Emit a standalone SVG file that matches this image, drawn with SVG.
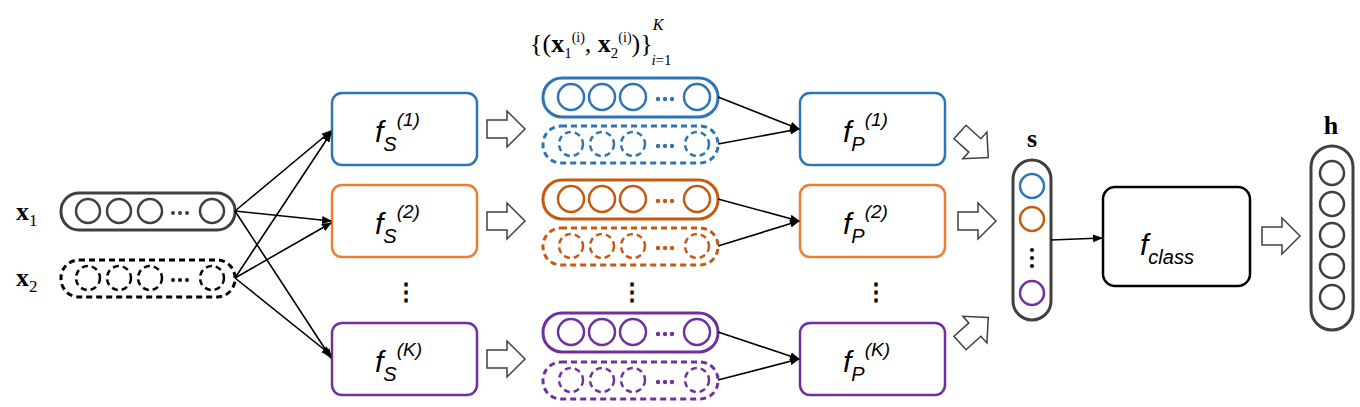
<svg xmlns="http://www.w3.org/2000/svg" width="1360" height="407" viewBox="0 0 1360 407">
<style>
.box{fill:#fff;stroke-width:2.5}
.bar{fill:#fff;stroke-width:3}
.c{fill:#fff;stroke-width:2.5}
.d{stroke-dasharray:6,4}
.blue{stroke:#2e75b6}.org{stroke:#ed7d31}.dorg{stroke:#c55a11}.pur{stroke:#7030a0}.blk{stroke:#000}.gry{stroke:#404040}
.f{font-family:"Liberation Sans",sans-serif;font-style:italic;font-size:30px}
.sub{font-family:"Liberation Sans",sans-serif;font-style:italic;font-size:20px}
.sup{font-family:"Liberation Sans",sans-serif;font-size:19px}
.m{font-family:"Liberation Serif",serif;font-size:26px}
.hollow{fill:#fff;stroke:#404040;stroke-width:1.5}
.ln{stroke:#000;stroke-width:1.6;fill:none;marker-end:url(#ah)}
.vd{font-family:"Liberation Sans",sans-serif;font-size:24px;font-weight:bold}
</style>
<defs>
<marker id="ah" markerWidth="10" markerHeight="8" refX="9" refY="4" orient="auto" markerUnits="userSpaceOnUse"><path d="M0,0 L10,4 L0,8 z" fill="#000"/></marker>
<path id="ha" d="M0,-9 L20,-9 L20,-18 L38,0 L20,18 L20,9 L0,9 z"/>
<g id="solidrow"><circle cx="28" cy="0" r="13"/><circle cx="59" cy="0" r="13"/><circle cx="90" cy="0" r="13"/><circle cx="153" cy="0" r="13"/></g>
</defs>

<!-- inputs -->
<g id="x1">
<text x="16" y="220" class="m" font-weight="bold">x<tspan font-size="17" font-weight="normal" dy="6">1</tspan></text>
<rect x="61" y="193" width="174" height="37" rx="18" class="bar gry" stroke="#404040"/>
<g class="c" stroke="#404040"><circle cx="88" cy="211" r="12"/><circle cx="119" cy="211" r="12"/><circle cx="150" cy="211" r="12"/><circle cx="212" cy="211" r="12"/></g>
<g fill="#404040"><circle cx="173" cy="213" r="2"/><circle cx="180" cy="213" r="2"/><circle cx="187" cy="213" r="2"/></g>
</g>
<g id="x2">
<text x="16" y="286" class="m" font-weight="bold">x<tspan font-size="17" font-weight="normal" dy="6">2</tspan></text>
<rect x="61" y="260" width="174" height="37" rx="18" class="bar d" stroke="#000"/>
<g class="c d" stroke="#000"><circle cx="88" cy="278" r="12"/><circle cx="119" cy="278" r="12"/><circle cx="150" cy="278" r="12"/><circle cx="212" cy="278" r="12"/></g>
<g fill="#000"><circle cx="173" cy="280" r="2"/><circle cx="180" cy="280" r="2"/><circle cx="187" cy="280" r="2"/></g>
</g>

<!-- fS boxes -->
<g id="fs1"><rect x="332" y="93" width="145" height="72" rx="10" class="box" stroke="#2e75b6"/><text x="375" y="142" class="f">f<tspan class="sub" dy="9">S</tspan><tspan class="sup" dy="-25">(1)</tspan></text></g>
<g id="fs2"><rect x="332" y="185" width="145" height="72" rx="10" class="box" stroke="#ed7d31"/><text x="375" y="234" class="f">f<tspan class="sub" dy="9">S</tspan><tspan class="sup" dy="-25">(2)</tspan></text></g>
<g id="fsK"><rect x="332" y="323" width="145" height="72" rx="10" class="box" stroke="#7030a0"/><text x="375" y="372" class="f">f<tspan class="sub" dy="9">S</tspan><tspan class="sup" dy="-25">(K)</tspan></text></g>
<text x="406" y="300" class="vd" text-anchor="middle">⋮</text>

<!-- formula -->
<g id="formula"><text x="530" y="52" class="m" font-size="24">{(<tspan font-weight="bold">x</tspan><tspan font-size="15" dy="6">1</tspan><tspan font-size="14" dy="-16">(i)</tspan><tspan dy="10">, </tspan><tspan font-weight="bold">x</tspan><tspan font-size="15" dy="6">2</tspan><tspan font-size="14" dy="-16">(i)</tspan><tspan dy="10">)}</tspan><tspan font-size="16" font-style="italic" dy="-22">K</tspan><tspan font-size="15" font-style="italic" dx="-12" dy="35">i</tspan><tspan font-size="15">=1</tspan></text></g>

<!-- pair bars -->
<g id="p1" stroke="#2e75b6" fill="#2e75b6">
<rect x="543" y="78" width="175" height="39" rx="19" class="bar"/>
<g class="c"><circle cx="571" cy="97" r="13"/><circle cx="602" cy="97" r="13"/><circle cx="633" cy="97" r="13"/><circle cx="697" cy="97" r="13"/></g>
<g stroke="none"><circle cx="658" cy="99" r="2.2"/><circle cx="665" cy="99" r="2.2"/><circle cx="672" cy="99" r="2.2"/></g>
<rect x="543" y="126" width="175" height="37" rx="18" class="bar d"/>
<g class="c d"><circle cx="571" cy="144" r="12"/><circle cx="602" cy="144" r="12"/><circle cx="633" cy="144" r="12"/><circle cx="697" cy="144" r="12"/></g>
<g stroke="none"><circle cx="658" cy="146" r="2.2"/><circle cx="665" cy="146" r="2.2"/><circle cx="672" cy="146" r="2.2"/></g>
</g>
<g id="p2" stroke="#c55a11" fill="#c55a11">
<rect x="543" y="180" width="175" height="39" rx="19" class="bar"/>
<g class="c"><circle cx="571" cy="199" r="13"/><circle cx="602" cy="199" r="13"/><circle cx="633" cy="199" r="13"/><circle cx="697" cy="199" r="13"/></g>
<g stroke="none"><circle cx="658" cy="201" r="2.2"/><circle cx="665" cy="201" r="2.2"/><circle cx="672" cy="201" r="2.2"/></g>
<rect x="543" y="228" width="175" height="37" rx="18" class="bar d"/>
<g class="c d"><circle cx="571" cy="246" r="12"/><circle cx="602" cy="246" r="12"/><circle cx="633" cy="246" r="12"/><circle cx="697" cy="246" r="12"/></g>
<g stroke="none"><circle cx="658" cy="248" r="2.2"/><circle cx="665" cy="248" r="2.2"/><circle cx="672" cy="248" r="2.2"/></g>
</g>
<text x="632" y="300" class="vd" text-anchor="middle">⋮</text>
<g id="pK" stroke="#7030a0" fill="#7030a0">
<rect x="543" y="313" width="175" height="39" rx="19" class="bar"/>
<g class="c"><circle cx="571" cy="332" r="13"/><circle cx="602" cy="332" r="13"/><circle cx="633" cy="332" r="13"/><circle cx="697" cy="332" r="13"/></g>
<g stroke="none"><circle cx="658" cy="334" r="2.2"/><circle cx="665" cy="334" r="2.2"/><circle cx="672" cy="334" r="2.2"/></g>
<rect x="543" y="362" width="175" height="37" rx="18" class="bar d"/>
<g class="c d"><circle cx="571" cy="380" r="12"/><circle cx="602" cy="380" r="12"/><circle cx="633" cy="380" r="12"/><circle cx="697" cy="380" r="12"/></g>
<g stroke="none"><circle cx="658" cy="382" r="2.2"/><circle cx="665" cy="382" r="2.2"/><circle cx="672" cy="382" r="2.2"/></g>
</g>

<!-- fP boxes -->
<g id="fp1"><rect x="800" y="93" width="145" height="72" rx="10" class="box" stroke="#2e75b6"/><text x="843" y="142" class="f">f<tspan class="sub" dy="9">P</tspan><tspan class="sup" dy="-25">(1)</tspan></text></g>
<g id="fp2"><rect x="800" y="185" width="145" height="72" rx="10" class="box" stroke="#ed7d31"/><text x="843" y="234" class="f">f<tspan class="sub" dy="9">P</tspan><tspan class="sup" dy="-25">(2)</tspan></text></g>
<g id="fpK"><rect x="800" y="323" width="145" height="72" rx="10" class="box" stroke="#7030a0"/><text x="843" y="372" class="f">f<tspan class="sub" dy="9">P</tspan><tspan class="sup" dy="-25">(K)</tspan></text></g>
<text x="876" y="300" class="vd" text-anchor="middle">⋮</text>

<!-- s -->
<g id="s">
<text x="1032" y="147" class="m" font-size="30" font-weight="bold" text-anchor="middle">s</text>
<rect x="1013" y="160" width="38" height="160" rx="19" class="bar" stroke="#404040"/>
<circle cx="1032" cy="186" r="12" class="c" stroke="#2e75b6"/>
<circle cx="1032" cy="219" r="12" class="c" stroke="#c55a11"/>
<g fill="#000"><circle cx="1032" cy="250" r="2"/><circle cx="1032" cy="258" r="2"/><circle cx="1032" cy="266" r="2"/></g>
<circle cx="1032" cy="293" r="12" class="c" stroke="#7030a0"/>
</g>

<g id="fclass"><rect x="1103" y="187" width="147" height="99" rx="12" class="box" stroke="#000"/><text x="1140" y="255" class="f">f<tspan class="sub" dy="9">class</tspan></text></g>

<g id="h">
<text x="1331" y="134" class="m" font-size="30" font-weight="bold" text-anchor="middle">h</text>
<rect x="1311" y="146" width="42" height="184" rx="21" class="bar" stroke="#404040"/>
<g class="c" stroke="#404040"><circle cx="1332" cy="173" r="12"/><circle cx="1332" cy="204" r="12"/><circle cx="1332" cy="235" r="12"/><circle cx="1332" cy="266" r="12"/><circle cx="1332" cy="297" r="12"/></g>
</g>

<!-- connectors -->
<g id="connectors">
<line x1="235" y1="211" x2="331" y2="131" class="ln"/>
<line x1="235" y1="211" x2="331" y2="221" class="ln"/>
<line x1="235" y1="211" x2="331" y2="358" class="ln"/>
<line x1="235" y1="278" x2="331" y2="133" class="ln"/>
<line x1="235" y1="278" x2="331" y2="223" class="ln"/>
<line x1="235" y1="278" x2="331" y2="355" class="ln"/>
<line x1="718" y1="97" x2="799" y2="129" class="ln"/>
<line x1="718" y1="144" x2="799" y2="129" class="ln"/>
<line x1="718" y1="199" x2="799" y2="221" class="ln"/>
<line x1="718" y1="246" x2="799" y2="221" class="ln"/>
<line x1="718" y1="332" x2="799" y2="359" class="ln"/>
<line x1="718" y1="380" x2="799" y2="359" class="ln"/>
<line x1="1051" y1="240" x2="1102" y2="238" class="ln"/>
<use href="#ha" class="hollow" transform="translate(487,129)"/>
<use href="#ha" class="hollow" transform="translate(487,221)"/>
<use href="#ha" class="hollow" transform="translate(487,359)"/>
<use href="#ha" class="hollow" transform="translate(960,132) rotate(42)"/>
<use href="#ha" class="hollow" transform="translate(958,221)"/>
<use href="#ha" class="hollow" transform="translate(960,343) rotate(-42)"/>
<use href="#ha" class="hollow" transform="translate(1262,236)"/>
</g>
</svg>
